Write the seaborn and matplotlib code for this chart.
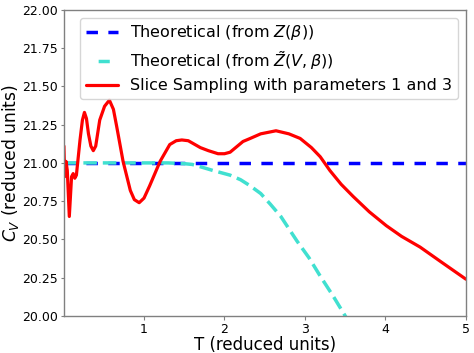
import matplotlib
matplotlib.use("Agg")
import matplotlib.pyplot as plt
import matplotlib.ticker as mticker
import numpy as np
import pandas as pd
import seaborn as sns

# data
t_exact = [0.005, 5.0]
cv_exact = [21.0, 21.0]

t_approx = [0.005, 0.5, 1.0, 1.3, 1.5, 1.6, 1.7, 1.86, 2.07, 2.2, 2.32,
            2.45, 2.57, 2.7, 2.9, 3.05, 3.19, 3.35, 3.5, 3.7]
cv_approx = [21.0, 21.0, 21.0, 21.0, 20.995, 20.99, 20.975, 20.95, 20.92, 20.89, 20.85,
             20.80, 20.73, 20.65, 20.49, 20.38, 20.26, 20.13, 20.0, 19.8]

t_slice = [0.005, 0.015, 0.031, 0.047, 0.072, 0.10, 0.12, 0.14, 0.16, 0.205,
           0.235, 0.26, 0.285, 0.31, 0.34, 0.37, 0.40, 0.45, 0.51, 0.57,
           0.62, 0.66, 0.74, 0.83, 0.88, 0.94, 1.00, 1.07, 1.20, 1.32,
           1.40, 1.47, 1.55, 1.70, 1.80, 1.92, 2.00, 2.07, 2.23, 2.32,
           2.45, 2.64, 2.80, 2.94, 3.08, 3.19, 3.31, 3.45, 3.60, 3.80,
           4.01, 4.20, 4.43, 4.70, 5.00]
cv_slice = [21.11, 20.91, 21.01, 20.95, 20.65, 20.91, 20.93, 20.90, 20.92, 21.15,
            21.28, 21.33, 21.29, 21.19, 21.11, 21.08, 21.11, 21.28, 21.37, 21.41,
            21.35, 21.24, 21.01, 20.82, 20.76, 20.74, 20.77, 20.85, 21.01, 21.12,
            21.145, 21.15, 21.145, 21.10, 21.08, 21.06, 21.06, 21.07, 21.14, 21.16,
            21.19, 21.21, 21.19, 21.16, 21.10, 21.04, 20.95, 20.86, 20.78, 20.68,
            20.59, 20.52, 20.45, 20.35, 20.24]

sns.set_theme(style="ticks", rc={
    "axes.edgecolor": "gray",
    "xtick.color": "gray",
    "ytick.color": "gray",
    "xtick.labelcolor": "black",
    "ytick.labelcolor": "black",
    "text.color": "black",
    "axes.labelcolor": "black",
})
plt.rcParams['font.family'] = ['DejaVu Sans']
plt.rcParams['mathtext.fontset'] = 'dejavusans'

fig = plt.figure(figsize=(4.74, 3.53), dpi=100)
ax = fig.add_axes([0.134, 0.105, 0.849, 0.867])

lw = 2.3
sns.lineplot(x=t_exact, y=cv_exact, ax=ax, color='blue', lw=2.5,
             label=r'Theoretical (from $Z(\beta)$)', estimator=None, sort=False)
sns.lineplot(x=t_approx, y=cv_approx, ax=ax, color='turquoise', lw=2.5,
             label=r'Theoretical (from $\tilde{Z}(V,\beta)$)', estimator=None, sort=False)
sns.lineplot(x=t_slice, y=cv_slice, ax=ax, color='red', lw=lw,
             label='Slice Sampling with parameters 1 and 3', estimator=None, sort=False)

lines = ax.get_lines()
lines[0].set_dashes((3.3, 3.0))
lines[1].set_dashes((3.9, 1.7))

ax.set_xlim(0, 5)
ax.set_ylim(20, 22)
ax.set_xticks([1, 2, 3, 4, 5])
ax.set_yticks(np.arange(20, 22.01, 0.25))
ax.yaxis.set_major_formatter(mticker.FormatStrFormatter('%.2f'))
ax.tick_params(labelsize=9, length=3, width=0.8, pad=2)
ax.tick_params(axis='y', length=2.5, pad=1.5)
for s in ax.spines.values():
    s.set_linewidth(1.0)

ax.set_xlabel('T (reduced units)', fontsize=12, labelpad=0)
ax.set_ylabel(r'$C_V$ (reduced units)', fontsize=12.3, labelpad=0.5)

leg = ax.legend(loc='upper right', fontsize=11.5, frameon=True, borderaxespad=0.5,
                labelspacing=0.4, borderpad=0.35)
hl = leg.get_lines()
hl[0].set_dashes((3.3, 3.0))
hl[1].set_linestyle((3.2, (3.2, 3.5)))

fig.savefig('out.png', dpi=100)
